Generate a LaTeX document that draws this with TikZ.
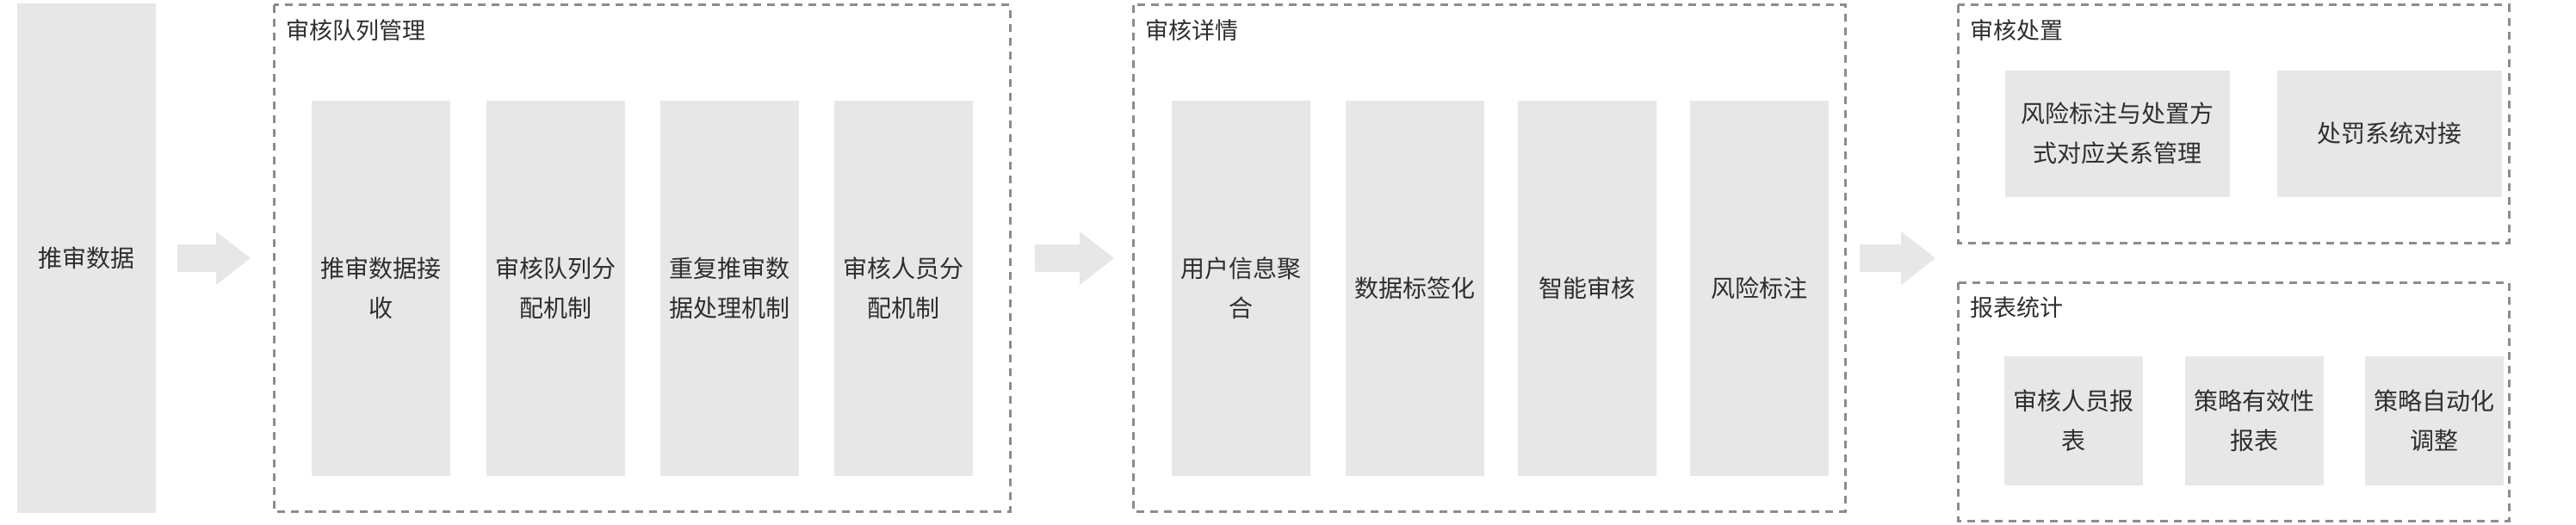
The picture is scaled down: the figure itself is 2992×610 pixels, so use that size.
\documentclass[tikz,border=0pt]{standalone}
\usepackage{fontspec}
\setmainfont{Noto Sans CJK SC}
\begin{document}
\begin{tikzpicture}[x=1pt,y=-1pt,
  box/.style={fill=boxgray,draw=none,text=txt,align=center,font=\fontsize{28}{46}\selectfont,inner sep=0pt},
  grp/.style={draw=dashgray,line width=3pt,dash pattern=on 9pt off 7pt},
  ttl/.style={anchor=west,text=txt,font=\fontsize{27}{30}\selectfont,inner sep=0pt},
  arr/.style={fill=boxgray,draw=none}]
\definecolor{boxgray}{HTML}{E6E7E6}
\definecolor{dashgray}{HTML}{8C8C8C}
\definecolor{txt}{HTML}{2E2E2E}
\useasboundingbox (0,0) rectangle (2992,610);
% source
\node[box,minimum width=161,minimum height=591] (src) at (100,300) {推审数据};
% group 1
\draw[grp] (318,6) rectangle (1173,594);
\node[ttl] (t1) at (332,35) {审核队列管理};
\node[box,minimum width=161,minimum height=436] (a1) at (442,335) {推审数据接\\收};
\node[box,minimum width=161,minimum height=436] (a2) at (645,335) {审核队列分\\配机制};
\node[box,minimum width=161,minimum height=436] (a3) at (847,335) {重复推审数\\据处理机制};
\node[box,minimum width=161,minimum height=436] (a4) at (1049,335) {审核人员分\\配机制};
% group 2
\draw[grp] (1316,6) rectangle (2143,594);
\node[ttl] (t2) at (1330,35) {审核详情};
\node[box,minimum width=161,minimum height=436] (b1) at (1441,335) {用户信息聚\\合};
\node[box,minimum width=161,minimum height=436] (b2) at (1643,335) {数据标签化};
\node[box,minimum width=161,minimum height=436] (b3) at (1843,335) {智能审核};
\node[box,minimum width=161,minimum height=436] (b4) at (2043,335) {风险标注};
% group 3
\draw[grp] (2274,6) rectangle (2914,282);
\node[ttl] (t3) at (2288,35) {审核处置};
\node[box,minimum width=261,minimum height=147] (c1) at (2459,155) {风险标注与处置方\\式对应关系管理};
\node[box,minimum width=261,minimum height=147] (c2) at (2775,155) {处罚系统对接};
% group 4
\draw[grp] (2274,328) rectangle (2914,605);
\node[ttl] (t4) at (2288,357) {报表统计};
\node[box,minimum width=161,minimum height=150] (d1) at (2408,489) {审核人员报\\表};
\node[box,minimum width=161,minimum height=150] (d2) at (2618,489) {策略有效性\\报表};
\node[box,minimum width=161,minimum height=150] (d3) at (2827,489) {策略自动化\\调整};
% arrows
\foreach \x/\w in {206/85,1202/92,2160/88}{
  \fill[arr] (\x,284) -- (\x+\w-40,284) -- (\x+\w-40,269) -- (\x+\w,300) -- (\x+\w-40,331) -- (\x+\w-40,316) -- (\x,316) -- cycle;
}
\end{tikzpicture}
\end{document}
